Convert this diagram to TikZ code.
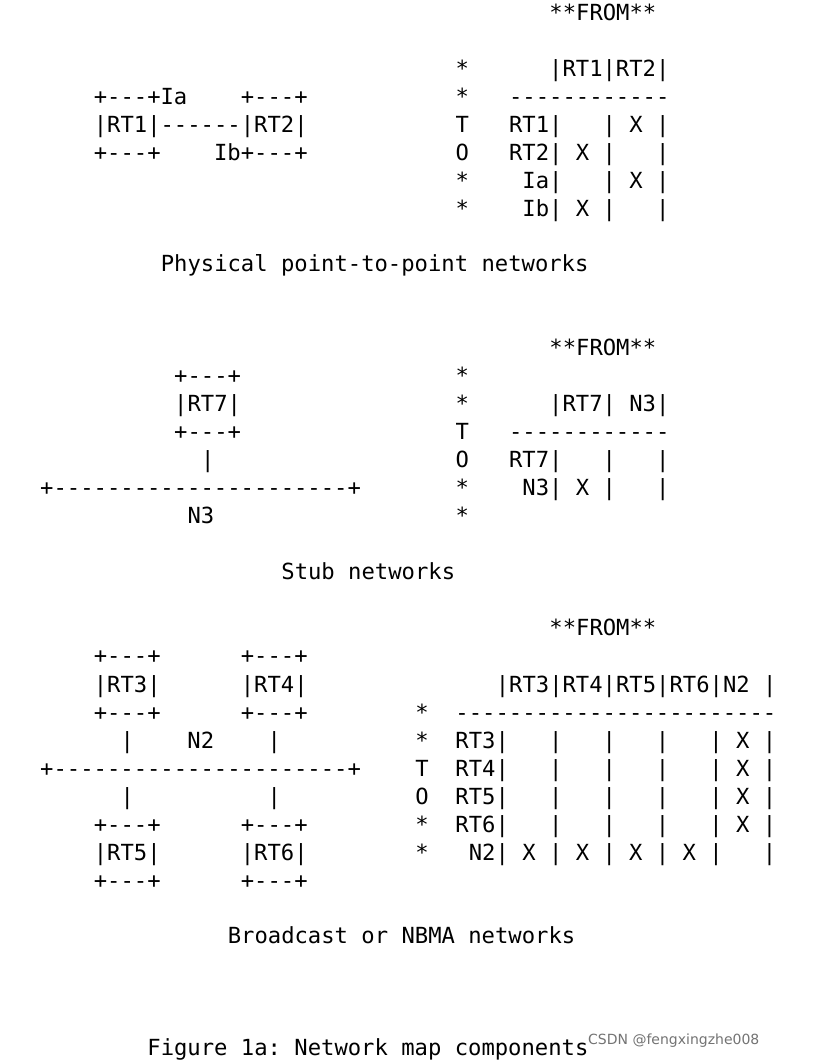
\documentclass[tikz,border=0pt]{standalone}
\usepackage{fontspec}
\setmonofont{DejaVu Sans Mono}
\setsansfont{DejaVu Sans}
\tikzset{txt/.style={anchor=mid west,inner sep=0pt,font=\ttfamily\fontsize{22.2pt}{26pt}\selectfont}}
\newcommand\T[3]{\node[txt] at ({40+#1*13.4pt},{-#2pt-6pt}) {#3};}
\begin{document}
\begin{tikzpicture}[x=1pt,y=1pt]
\useasboundingbox[fill=white] (0,0) rectangle (812,-1062);
% block 1
\T{38}{12}{**FROM**}
\T{31}{68}{*~~~~~~|RT1|RT2|}
\T{4}{96}{+---+Ia~~~~+---+}
\T{31}{96}{*~~~------------}
\T{4}{124}{|RT1|------|RT2|}
\T{31}{124}{T~~~RT1|~~~|~X~|}
\T{4}{152}{+---+~~~~Ib+---+}
\T{31}{152}{O~~~RT2|~X~|~~~|}
\T{31}{180}{*~~~~Ia|~~~|~X~|}
\T{31}{208}{*~~~~Ib|~X~|~~~|}
\T{9}{263}{Physical~point-to-point~networks}
% block 2
\T{38}{347}{**FROM**}
\T{10}{375}{+---+}
\T{31}{375}{*}
\T{10}{403}{|RT7|}
\T{31}{403}{*~~~~~~|RT7|~N3|}
\T{10}{431}{+---+}
\T{31}{431}{T~~~------------}
\T{12}{459}{|}
\T{31}{459}{O~~~RT7|~~~|~~~|}
\T{0}{487}{+----------------------+}
\T{31}{487}{*~~~~N3|~X~|~~~|}
\T{11}{515}{N3}
\T{31}{515}{*}
\T{18}{571}{Stub~networks}
% block 3
\T{38}{627}{**FROM**}
\T{4}{655}{+---+~~~~~~+---+}
\T{4}{684}{|RT3|~~~~~~|RT4|}
\T{34}{684}{|RT3|RT4|RT5|RT6|N2~|}
\T{4}{712}{+---+~~~~~~+---+}
\T{28}{712}{*~~------------------------}
\T{6}{740}{|~~~~N2~~~~|}
\T{28}{740}{*~~RT3|~~~|~~~|~~~|~~~|~X~|}
\T{0}{768}{+----------------------+}
\T{28}{768}{T~~RT4|~~~|~~~|~~~|~~~|~X~|}
\T{6}{796}{|~~~~~~~~~~|}
\T{28}{796}{O~~RT5|~~~|~~~|~~~|~~~|~X~|}
\T{4}{824}{+---+~~~~~~+---+}
\T{28}{824}{*~~RT6|~~~|~~~|~~~|~~~|~X~|}
\T{4}{852}{|RT5|~~~~~~|RT6|}
\T{28}{852}{*~~~N2|~X~|~X~|~X~|~X~|~~~|}
\T{4}{880}{+---+~~~~~~+---+}
\T{14}{935}{Broadcast~or~NBMA~networks}
\T{8}{1047}{Figure~1a:~Network~map~components}
\node[anchor=mid west,inner sep=0pt,font=\sffamily\fontsize{14pt}{16pt}\selectfont,text=black!55] (wm) at (588,-1042) {CSDN @fengxingzhe008};
\end{tikzpicture}
\end{document}
